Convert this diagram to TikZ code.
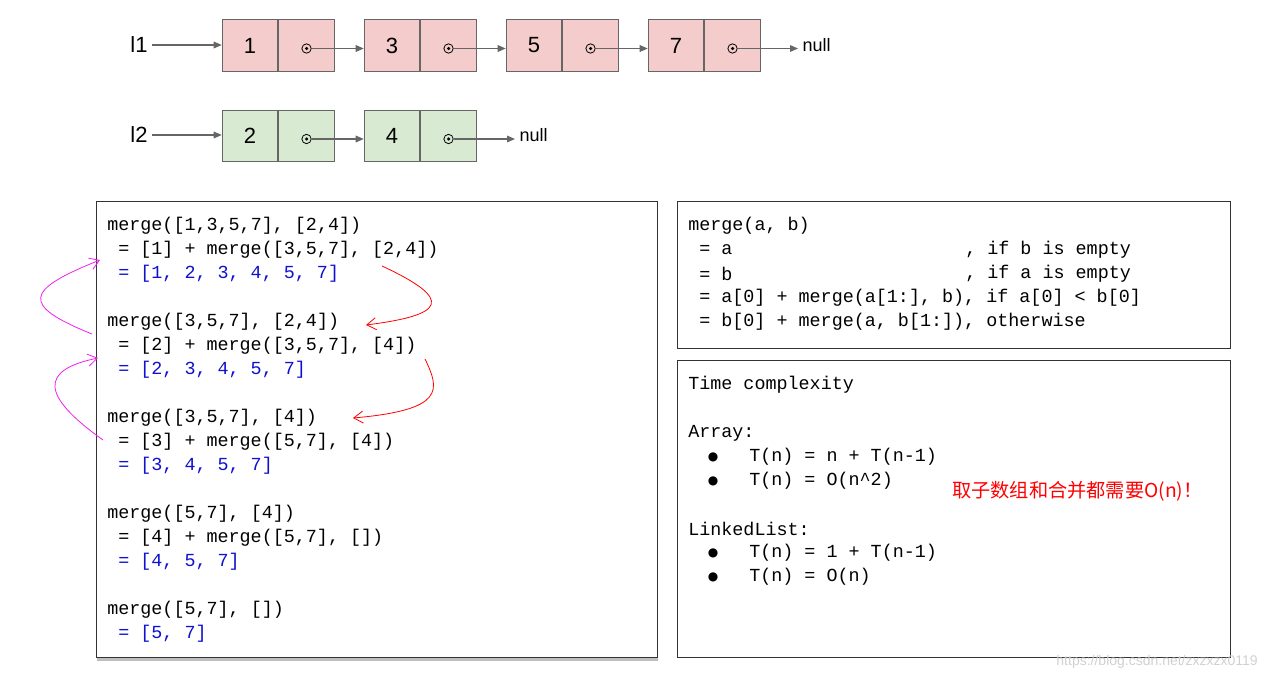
\documentclass[tikz,border=0pt]{standalone}
\usepackage{fontspec}
\setmainfont{Liberation Sans}
\newfontfamily\codefont{Liberation Mono}
\newfontfamily\cjkfont{Noto Sans CJK SC}
\newfontfamily\dvs{DejaVu Sans}
\usetikzlibrary{arrows.meta,calc}
\definecolor{pinkc}{HTML}{F4CCCC}
\definecolor{greenc}{HTML}{D9EAD3}
\definecolor{edgec}{HTML}{666666}
\definecolor{bluec}{HTML}{1010D0}
\definecolor{magc}{HTML}{F020F0}
\tikzset{
 cell/.style={draw=edgec, line width=0.9pt, minimum width=41.5pt, minimum height=38.5pt, inner sep=0, font=\fontsize{16.5}{18}\selectfont},
 ptr/.style={-{Triangle[length=6pt,width=5pt]}, draw=edgec, line width=0.8pt},
 code/.style={anchor=west, inner sep=0, font=\fontsize{13.8}{16}\codefont},
 blue/.style={code, text=bluec},
 panel/.style={draw=black!80, line width=0.9pt},
 mag/.style={draw=magc, line width=0.6pt, -{Straight Barb[length=7pt,width=9pt]}},
 redc/.style={draw=red, line width=0.6pt, -{Straight Barb[length=7pt,width=9pt]}},
 dotc/.style={circle, draw=black, line width=0.6pt, minimum size=7pt, inner sep=0},
}
\begin{document}
\begin{tikzpicture}[x=0.75pt,y=-0.75pt]
\useasboundingbox (0,0) rectangle (1268,681);
\fill[white] (0,0) rectangle (1268,681);
% list 1
\foreach \v/\x [count=\i] in {1/250,3/392,5/534,7/676}{
  \node[cell, fill=pinkc] (a\i) at (\x,45.5) {\v};
  \node[cell, fill=pinkc, anchor=west] (b\i) at (a\i.east) {};
  \node[dotc] (p\i) at ($(b\i.center)+(0,3)$) {};
  \fill[black] (p\i.center) circle (1.3pt);
}
\node[font=\fontsize{16.5}{18}\selectfont] (l1) at (139,45) {l1};
\node[font=\fontsize{13.5}{15}\selectfont, anchor=west] (n1) at (798,45) {null};
\draw[ptr] (l1.east) -- (a1.west |- l1.east);
\draw[ptr] (p1.east) -- (a2.west |- p1.east);
\draw[ptr] (p2.east) -- (a3.west |- p2.east);
\draw[ptr] (p3.east) -- (a4.west |- p3.east);
\draw[ptr] (p4.east) -- (n1.west |- p4.east);
% list 2
\foreach \v/\x [count=\i] in {2/250,4/392}{
  \node[cell, fill=greenc] (c\i) at (\x,136) {\v};
  \node[cell, fill=greenc, anchor=west] (e\i) at (c\i.east) {};
  \node[dotc] (q\i) at ($(e\i.center)+(0,3)$) {};
  \fill[black] (q\i.center) circle (1.3pt);
}
\node[font=\fontsize{16.5}{18}\selectfont] (l2) at (139,135) {l2};
\node[font=\fontsize{13.5}{15}\selectfont, anchor=west] (n2) at (515,135) {null};
\draw[ptr] (l2.east) -- (c1.west |- l2.east);
\draw[ptr] (q1.east) -- (c2.west |- q1.east);
\draw[ptr] (q2.east) -- (n2.west |- q2.east);
% panels
\fill[black!25] (97,657) rectangle (658,661);
\node[panel, minimum width=420.75pt, minimum height=342pt, anchor=north west, inner sep=0] (L) at (96,201) {};
\node[panel, minimum width=414.75pt, minimum height=110.25pt, anchor=north west, inner sep=0] (R1) at (677,201) {};
\node[panel, minimum width=414.75pt, minimum height=222.75pt, anchor=north west, inner sep=0] (R2) at (677,360) {};
% left code
\node[code] (t1) at (107,226) {merge([1,3,5,7], [2,4])};
\node[code] (t2) at (118,250) {= [1] + merge([3,5,7], [2,4])};
\node[blue] (t3) at (118,274) {= [1, 2, 3, 4, 5, 7]};
\node[code] (t4) at (107,322) {merge([3,5,7], [2,4])};
\node[code] (t5) at (118,346) {= [2] + merge([3,5,7], [4])};
\node[blue] (t6) at (118,370) {= [2, 3, 4, 5, 7]};
\node[code] (t7) at (107,418) {merge([3,5,7], [4])};
\node[code] (t8) at (118,442) {= [3] + merge([5,7], [4])};
\node[blue] (t9) at (118,466) {= [3, 4, 5, 7]};
\node[code] (t10) at (107,514) {merge([5,7], [4])};
\node[code] (t11) at (118,538) {= [4] + merge([5,7], [])};
\node[blue] (t12) at (118,562) {= [4, 5, 7]};
\node[code] (t13) at (107,610) {merge([5,7], [])};
\node[blue] (t14) at (118,634) {= [5, 7]};
% right top
\node[code] (r1) at (688,226) {merge(a, b)};
\node[code] (r2) at (699,250) {= a};
\node[code] (r2b) at (965,250) {, if b is empty};
\node[code] (r3) at (699,274) {= b};
\node[code] (r3b) at (965,274) {, if a is empty};
\node[code] (r4) at (699,298) {= a[0] + merge(a[1:], b), if a[0] < b[0]};
\node[code] (r5) at (699,322) {= b[0] + merge(a, b[1:]), otherwise};
% right bottom
\node[code] (s1) at (688,385) {Time complexity};
\node[code] (s2) at (688,433) {Array:};
\node[code] (s3) at (749,457) {T(n) = n + T(n-1)};
\node[code] (s4) at (749,481) {T(n) = O(n\textasciicircum 2)};
\node[code] (s5) at (688,529) {LinkedList:};
\node[code] (s6) at (749,553) {T(n) = 1 + T(n-1)};
\node[code] (s7) at (749,577) {T(n) = O(n)};
\foreach \y [count=\i] in {457,481,553,577}
  \node[font=\fontsize{9}{10}\dvs, inner sep=0] (bu\i) at (713,\y) {●};
\node[anchor=west, inner sep=0, text=red, font=\fontsize{14.4}{16}\cjkfont] (cn) at (952,491) {取子数组和合并都需要O(n)！};
\node[anchor=east, inner sep=0, text=black!18, font=\fontsize{10.5}{12}\selectfont] (wm) at (1258,662) {https://blog.csdn.net/zxzxzx0119};
% curves
\coordinate (m1s) at (92,334); \coordinate (m1e) at (100,260);
\coordinate (m2s) at (103,440); \coordinate (m2e) at (98,358);
\draw[mag] (m1s) .. controls (20,305) and (25,290) .. (m1e);
\draw[mag] (m2s) .. controls (40,395) and (40,370) .. (m2e);
\coordinate (r1s) at (382,266); \coordinate (r1e) at (366,325);
\coordinate (r2s) at (425,359); \coordinate (r2e) at (353,418);
\draw[redc] (r1s) .. controls (455,300) and (445,315) .. (r1e);
\draw[redc] (r2s) .. controls (440,390) and (445,410) .. (r2e);
\end{tikzpicture}
\end{document}
